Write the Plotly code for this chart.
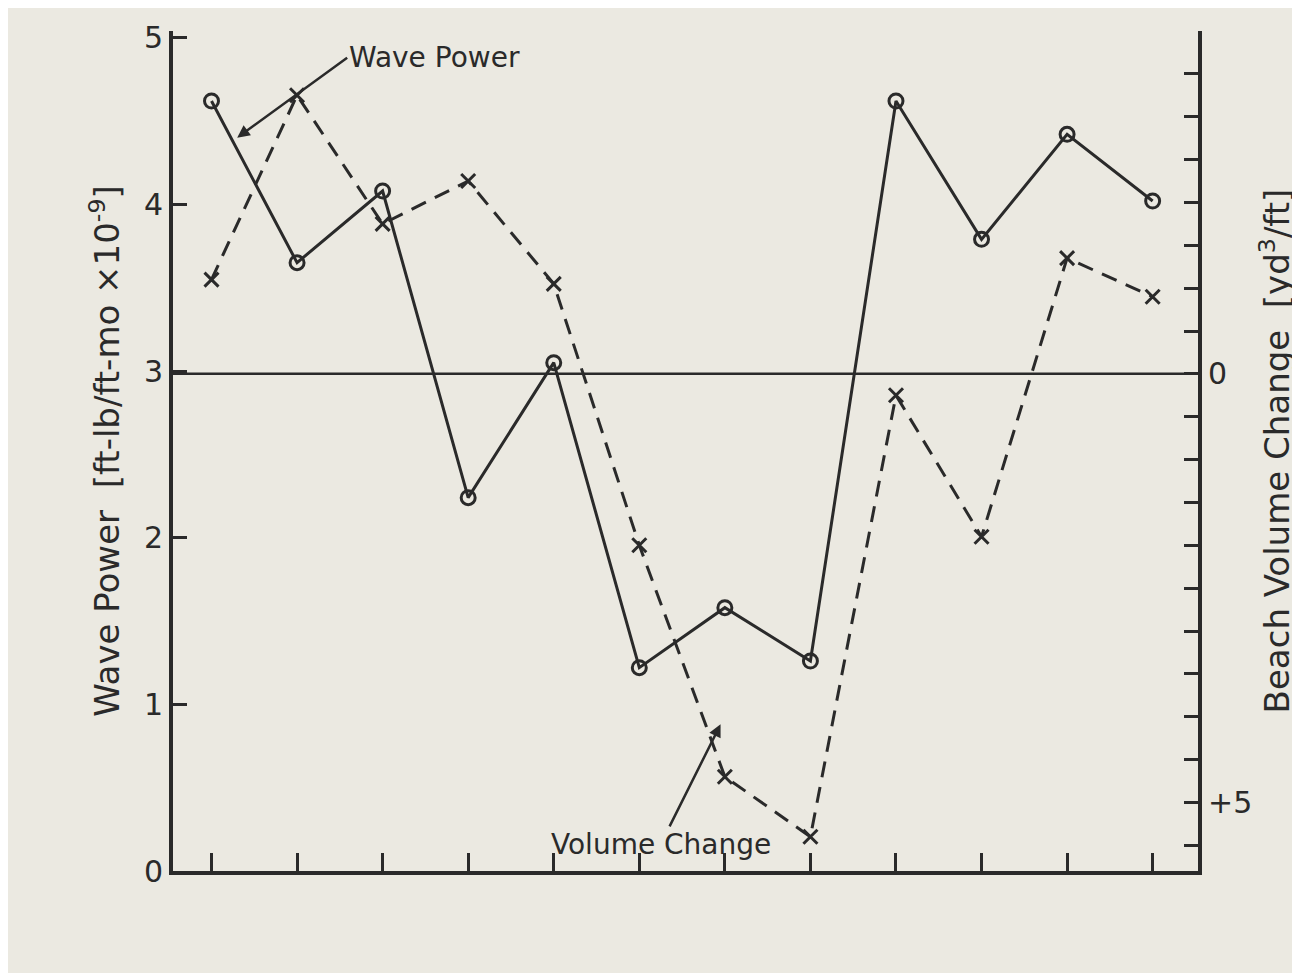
import plotly.graph_objects as go

x = list(range(1, 13))
wave_power = [4.62, 3.65, 4.08, 2.24, 3.05, 1.22, 1.58, 1.26, 4.62, 3.79, 4.42, 4.02]
volume_change = [-1.1, -3.25, -1.75, -2.25, -1.05, 2.0, 4.7, 5.4, 0.25, 1.9, -1.35, -0.9]
left_ticks = [0, 1, 2, 3, 4, 5]
right_ticks = [-4, -3.5, -3, -2.5, -2, -1.5, -1, -0.5, 0, 0.5, 1, 1.5, 2, 2.5, 3, 3.5, 4, 4.5, 5, 5.5]
right_labels = ["0" if v == 0 else ("+5" if v == 5 else "") for v in right_ticks]

ink = "#2a2a2a"
bg = "#ebe9e1"
font = dict(family="DejaVu Sans", size=30, color=ink)

fig = go.Figure()
fig.add_trace(go.Scatter(x=x, y=wave_power, mode="lines+markers",
    line=dict(color=ink, width=3), marker=dict(symbol="circle-open", size=14, color=ink, line=dict(width=3))))
fig.add_trace(go.Scatter(x=x, y=volume_change, yaxis="y2", mode="lines+markers",
    line=dict(color=ink, width=3, dash="16px,10px"), marker=dict(symbol="x-thin-open", size=14, color=ink, line=dict(width=3, color=ink))))
fig.add_trace(go.Scatter(x=[0.55, 12.53], y=[0, 0], yaxis="y2", mode="lines",
    line=dict(color=ink, width=2.5), hoverinfo="skip"))

fig.update_layout(
    width=1300, height=973, showlegend=False,
    paper_bgcolor=bg, plot_bgcolor=bg, font=font,
    margin=dict(l=165, r=110, t=20, b=110),
    xaxis=dict(range=[0.55, 12.53], tickvals=x, ticktext=[""] * 12, ticks="inside", ticklen=18,
               tickwidth=3, tickcolor=ink, showgrid=False, zeroline=False,
               showline=True, linewidth=4, linecolor=ink, mirror=False),
    yaxis=dict(range=[0, 5.04], tickvals=left_ticks, ticks="inside", ticklen=14, tickwidth=3,
               tickcolor=ink, showgrid=False, zeroline=False, showline=True, linewidth=4,
               linecolor=ink, title=dict(text="Wave Power  [ft-lb/ft-mo ×10<sup>-9</sup>]", font=dict(size=34))),
    yaxis2=dict(overlaying="y", side="right", range=[5.8, -4.0], tickvals=right_ticks,
                ticktext=right_labels, ticks="inside", ticklen=14, tickwidth=3, tickcolor=ink,
                showgrid=False, zeroline=False, showline=True, linewidth=4, linecolor=ink,
                title=dict(text="Beach Volume Change  [yd<sup>3</sup>/ft]", font=dict(size=34))),
    annotations=[
        dict(x=1.3, y=4.4, ax=110, ay=-80, text="Wave Power", showarrow=True, arrowhead=2,
             arrowwidth=2.5, arrowcolor=ink, xanchor="left", font=dict(size=28)),
        dict(x=6.95, y=0.88, ax=-60, ay=120, text="Volume Change", showarrow=True, arrowhead=2,
             arrowwidth=2.5, arrowcolor=ink, font=dict(size=28)),
    ],
)
fig.write_html("out.html")
